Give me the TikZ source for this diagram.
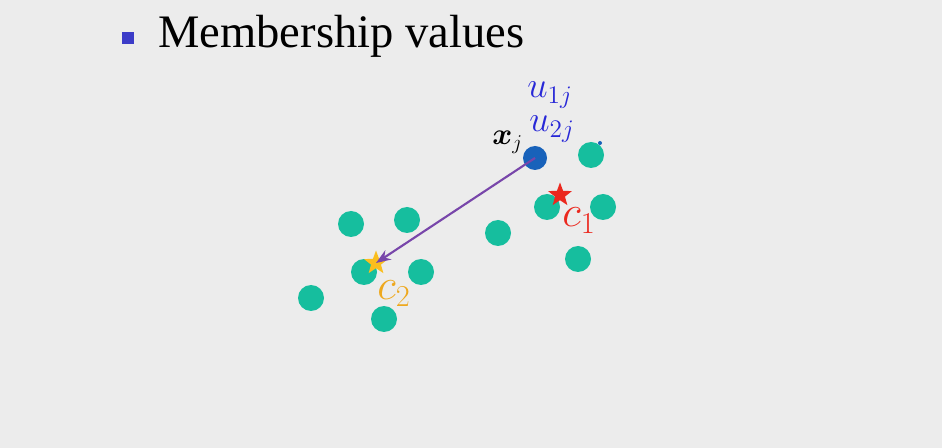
\documentclass[tikz,border=0pt]{standalone}
\usepackage{amsmath,amssymb}
\usepackage{fontspec}
\setmainfont{Liberation Serif}
\usepackage{xcolor}
\usetikzlibrary{arrows.meta,shapes.geometric}
\definecolor{fondo}{RGB}{236,236,236}
\definecolor{puntoverde}{RGB}{22,190,158}
\definecolor{puntoazul}{RGB}{24,98,186}
\definecolor{etiqazul}{RGB}{40,40,215}
\definecolor{estrellaroja}{RGB}{235,40,30}
\definecolor{estrellaamarilla}{RGB}{250,190,30}
\definecolor{etiqnaranja}{RGB}{238,168,30}
\definecolor{flechamorada}{RGB}{120,70,170}
\definecolor{vineta}{RGB}{60,60,200}

\begin{document}
\begin{tikzpicture}[x=0.02cm, y=-0.02cm, >=Stealth,
    dato/.style={circle, fill=puntoverde, inner sep=0pt, minimum size=0.52cm},
    estrella/.style={star, star points=5, star point ratio=2.4, inner sep=0pt, minimum size=0.5cm},
    etiq/.style={anchor=base west, inner sep=0pt}]
    \fill[fondo] (0,0) rectangle (942,448);
    \useasboundingbox (0,0) rectangle (942,448);
    % titulo con vineta
    \node[fill=vineta, inner sep=0pt, minimum size=0.24cm] (vin) at (128,38) {};
    \node[etiq, font=\fontsize{26.5}{30}\selectfont] (tit) at (158,48) {Membership values};
    % puntos de datos
    \node[dato] (d1) at (591,155) {};
    \node[dato] (d2) at (547,207) {};
    \node[dato] (d3) at (603,207) {};
    \node[dato] (d4) at (498,233) {};
    \node[dato] (d5) at (578,259) {};
    \node[dato] (d6) at (351,224) {};
    \node[dato] (d7) at (407,220) {};
    \node[dato] (d8) at (364,272) {};
    \node[dato] (d9) at (421,272) {};
    \node[dato] (d10) at (311,298) {};
    \node[dato] (d11) at (384,319) {};
    \fill[puntoazul] (600,143) circle (2);
    % punto x_j
    \node[circle, fill=puntoazul, inner sep=0pt, minimum size=0.48cm] (xj) at (535,158) {};
    \node[etiq, font=\fontsize{17}{20}\selectfont] (lxj) at (492,145) {$\boldsymbol{x}_j$};
    \node[etiq, etiqazul, font=\fontsize{22}{26}\selectfont] (u1) at (527,98) {$u_{1j}$};
    \node[etiq, etiqazul, font=\fontsize{22}{26}\selectfont] (u2) at (529,132) {$u_{2j}$};
    % centros
    \node[estrella, fill=estrellaroja] (c1) at (560,195) {};
    \node[etiq, estrellaroja, font=\fontsize{27}{31}\selectfont] (lc1) at (562,227) {$c_1$};
    \node[estrella, fill=estrellaamarilla] (c2) at (376,263) {};
    \node[etiq, etiqnaranja, font=\fontsize{27}{31}\selectfont] (lc2) at (377,300) {$c_2$};
    % flecha de x_j a c_2
    \draw[->, flechamorada, line width=1.2pt] (xj.center) -- (c2.center);
\end{tikzpicture}
\end{document}
